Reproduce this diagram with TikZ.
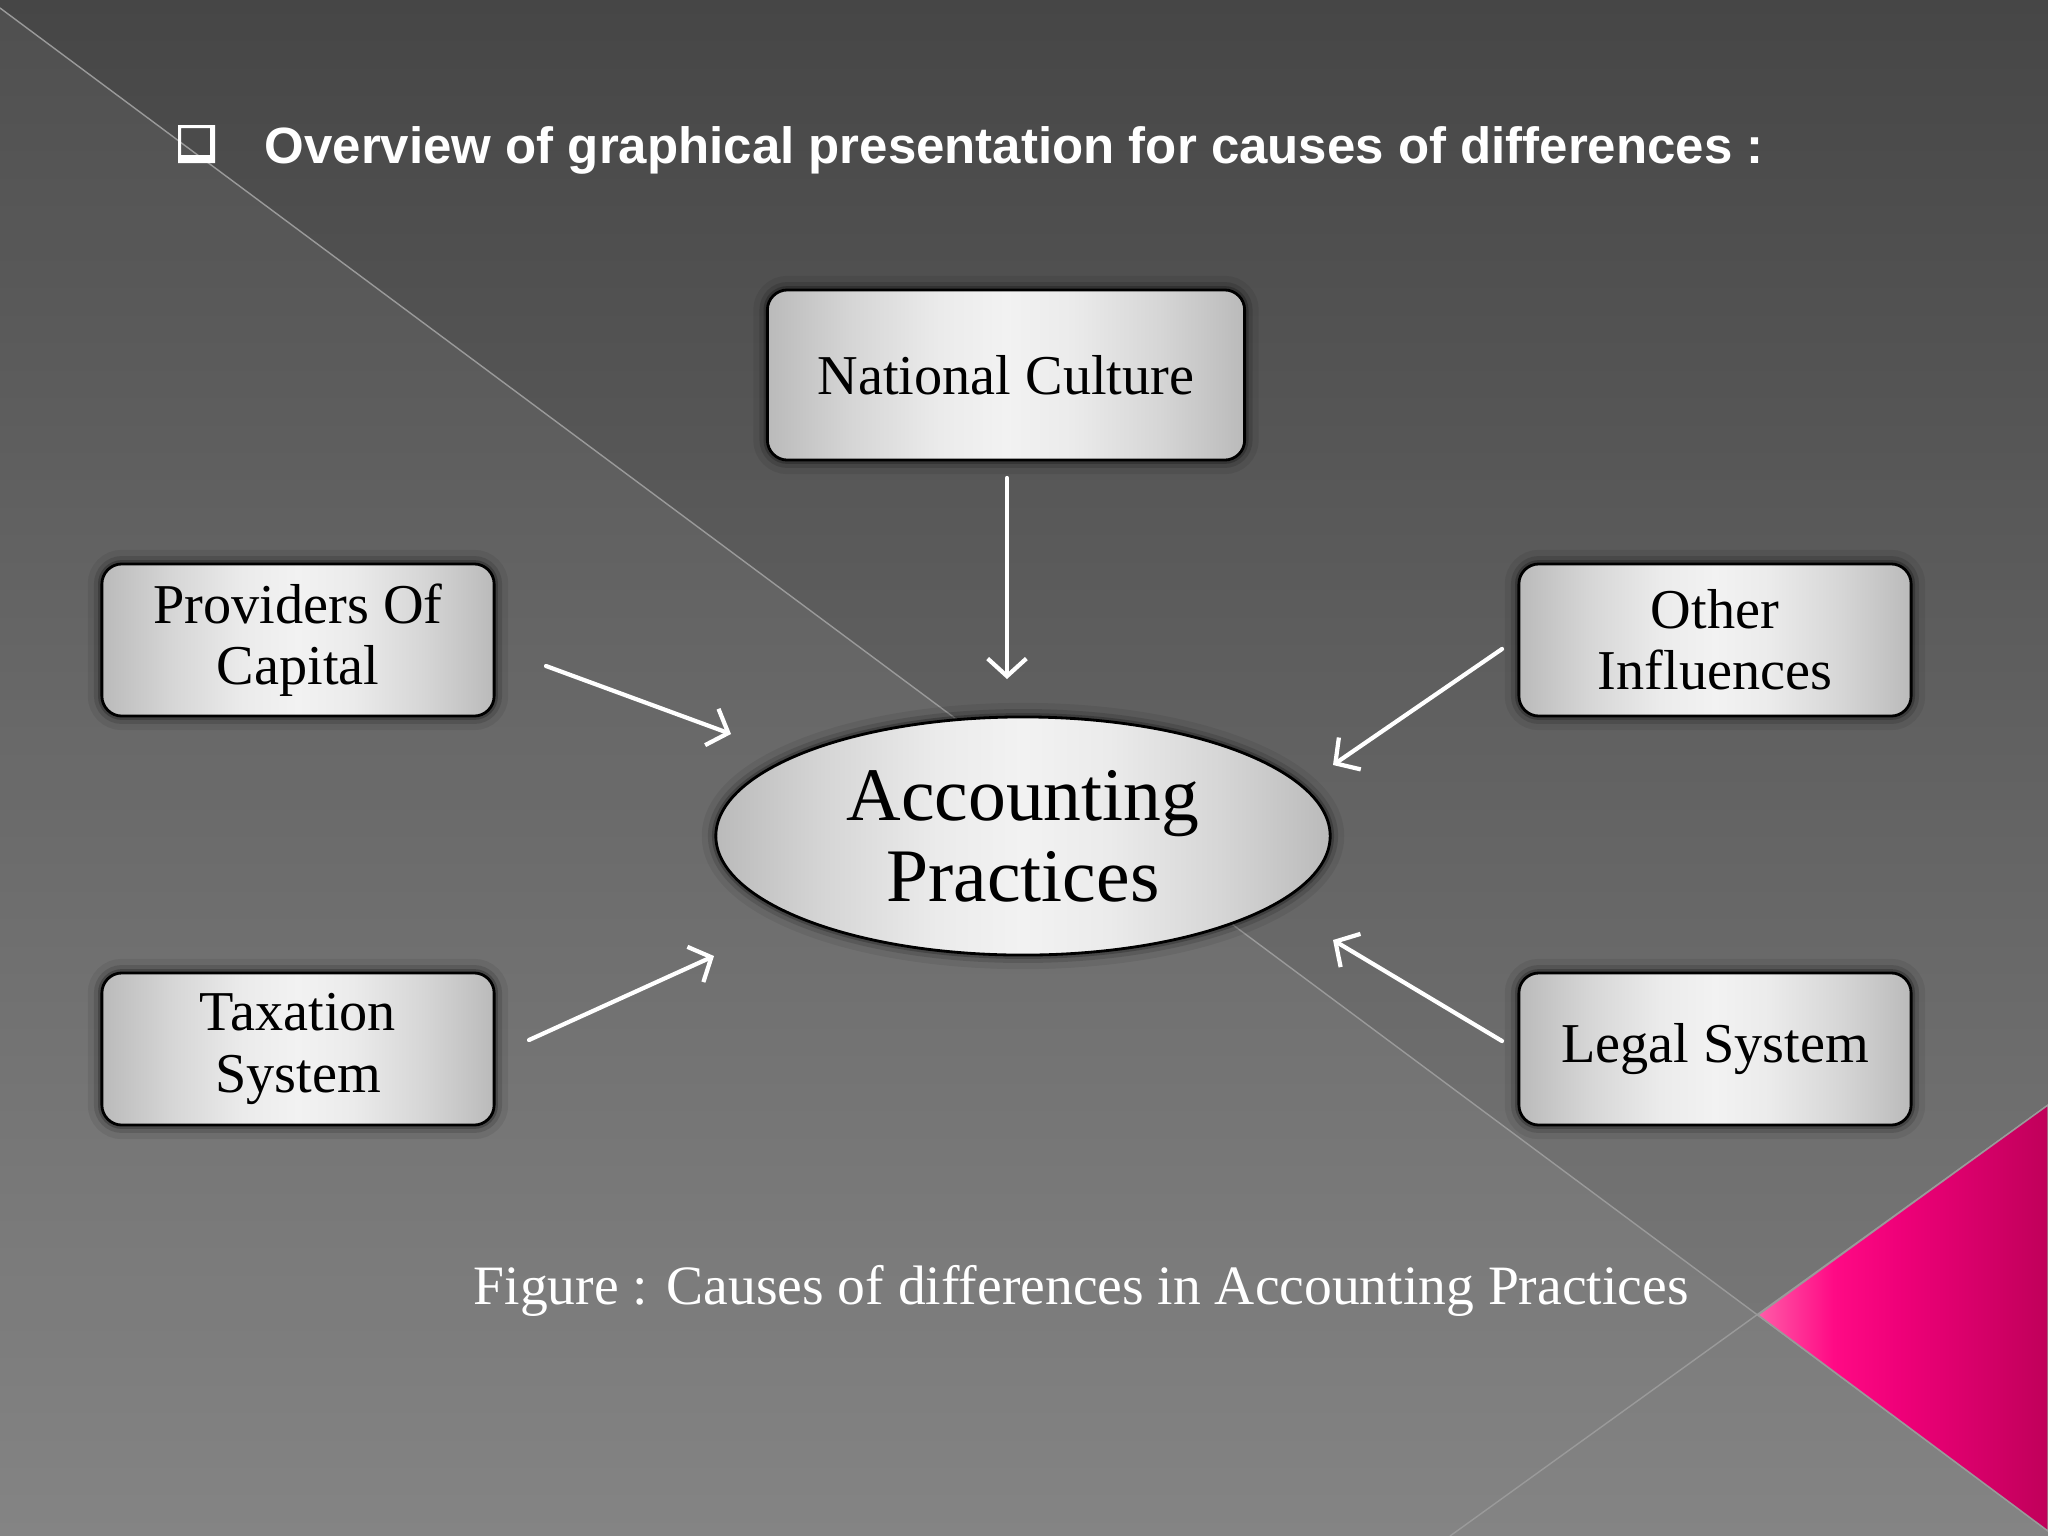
\documentclass[tikz,border=0pt]{standalone}
\usepackage{fontspec}
\setmainfont{Liberation Serif}
\newfontfamily\headfont{Liberation Sans}
\usetikzlibrary{arrows.meta,shapes.geometric}
\definecolor{bgtop}{HTML}{464646}
\definecolor{bgbot}{HTML}{7E7E7E}
\definecolor{lineclr}{HTML}{9A9A9A}
\definecolor{bxA}{HTML}{F2F2F2}
\definecolor{bxN}{HTML}{EBEBEB}
\definecolor{bxM}{HTML}{D6D6D6}
\definecolor{bxB}{HTML}{BABABA}
\definecolor{pinkA}{HTML}{FF5CA8}
\definecolor{pinkB}{HTML}{FF0A85}
\definecolor{pinkC}{HTML}{EE0078}
\definecolor{pinkD}{HTML}{C0005A}
\pgfdeclarehorizontalshading{boxshade}{100bp}{color(0bp)=(bxB); color(25bp)=(bxB); color(34bp)=(bxM); color(43bp)=(bxN); color(50bp)=(bxA); color(57bp)=(bxN); color(66bp)=(bxM); color(75bp)=(bxB); color(100bp)=(bxB)}
\pgfdeclarehorizontalshading{pinkshade}{100bp}{color(0bp)=(pinkA); color(25bp)=(pinkA); color(38bp)=(pinkB); color(50bp)=(pinkC); color(75bp)=(pinkD); color(100bp)=(pinkD)}
\begin{document}
\begin{tikzpicture}[x=0.01cm,y=-0.01cm,
  glow/.style={
    preaction={draw=black,opacity=0.07,line width=8pt},
    preaction={draw=black,opacity=0.13,line width=4.5pt},
    preaction={draw=black,opacity=0.22,line width=2.2pt}},
  cause/.style={rectangle, rounded corners=0.2cm, draw=black, line width=0.8pt,
    shade, shading=boxshade, minimum width=3.92cm, minimum height=1.52cm,
    align=center, inner sep=0pt, font=\fontsize{16}{17.4}\selectfont, glow},
  flow/.style={draw=white, line width=1.2pt, line cap=round,
    -{Straight Barb[length=5pt,width=11pt,line width=1.2pt]}}]
\useasboundingbox (0,0) rectangle (2048,1536);
% background
\shade[top color=bgtop,bottom color=bgbot] (0,0) rectangle (2048,1536);
\fill[white,opacity=0.05] (0,8) -- (1758,1315) -- (1450,1536) -- (0,1536) -- cycle;
\fill[white,opacity=0.05] (1450,1536) -- (1758,1315) -- (2048,1531) -- (2048,1536) -- cycle;
\draw[lineclr,line width=0.4pt] (0,8) -- (2048,1531);
\draw[lineclr,line width=0.4pt] (1450,1536) -- (2048,1105);
\shade[shading=pinkshade, draw=lineclr, line width=0.4pt] (1758,1315) -- (2048,1105) -- (2048,1531) -- cycle;
% title bullet (shadowed hollow square)
\fill[white,even odd rule] (178,125) rectangle (215,163) (181,128) rectangle (210,155);
% title
\node[anchor=base west, inner sep=0pt, text=white, font=\headfont\bfseries\fontsize{14.5}{17}\selectfont] (title) at (264,163) {Overview of graphical presentation for causes of differences :};
% nodes
\node[cause, minimum width=4.77cm, minimum height=1.70cm] (nc) at (1006,375) {National Culture};
\node[cause] (pc) at (298,640) {Providers Of\\Capital};
\node[cause] (ts) at (298,1049) {Taxation\\System};
\node[cause] (oi) at (1715,640) {Other\\Influences};
\node[cause] (ls) at (1715,1049) {Legal System};
\node[ellipse, draw=black, line width=0.8pt, shade, shading=boxshade,
  minimum width=6.14cm, minimum height=2.38cm, inner sep=0pt, align=center,
  font=\fontsize{21.5}{23}\selectfont, glow] (ap) at (1023,836) {Accounting\\Practices};
% arrows
\coordinate (nc-s) at (1007,478);
\coordinate (nc-e) at (1007,679);
\coordinate (pc-s) at (546,666);
\coordinate (pc-e) at (731,734);
\coordinate (oi-s) at (1502,649);
\coordinate (oi-e) at (1333,765);
\coordinate (ts-s) at (529,1040);
\coordinate (ts-e) at (714,956);
\coordinate (ls-s) at (1502,1041);
\coordinate (ls-e) at (1333,940);
\draw[flow] (nc-s) -- (nc-e);
\draw[flow] (pc-s) -- (pc-e);
\draw[flow] (oi-s) -- (oi-e);
\draw[flow] (ts-s) -- (ts-e);
\draw[flow] (ls-s) -- (ls-e);
% caption
\node[anchor=base west, inner sep=0pt, text=white, font=\fontsize{15.8}{18}\selectfont] (cap) at (473,1304) {Figure : Causes of differences in Accounting Practices};
\end{tikzpicture}
\end{document}
